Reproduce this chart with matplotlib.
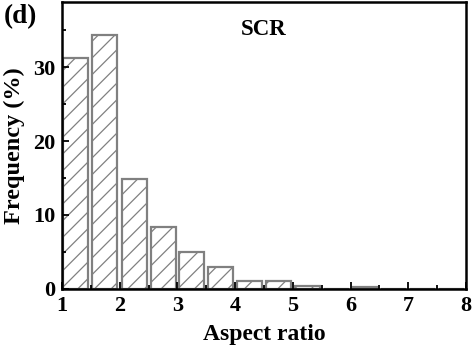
import numpy as np
import matplotlib
matplotlib.use("Agg")
from matplotlib import pyplot as plt

plt.rcParams['font.family'] = ['Liberation Serif', 'DejaVu Serif']
plt.rcParams['font.weight'] = 'bold'
plt.rcParams['hatch.color'] = '#808080'
plt.rcParams['hatch.linewidth'] = 0.9

# bin centers (aspect ratio) and frequency (%)
centers = [1.23, 1.74, 2.25, 2.76, 3.25, 3.75, 4.25, 4.75, 5.25, 5.75, 6.25, 6.75, 7.25, 7.75]
freq = [31.3, 34.3, 14.9, 8.4, 5.0, 2.9, 1.0, 1.0, 0.4, 0.0, 0.3, 0.0, 0.0, 0.0]

fig = plt.figure(figsize=(4.74, 3.54), dpi=100)
ax = fig.add_axes([0.131, 0.184, 0.852, 0.81])

ax.bar(centers, freq, width=0.43, color='white', edgecolor='#808080',
       linewidth=1.6, hatch='//')

ax.set_xlim(1, 8)
ax.set_ylim(0, 38.8)
ax.set_xticks(range(1, 9))
ax.set_xticks(np.arange(1.5, 8, 1.0), minor=True)
ax.set_yticks([0, 10, 20, 30])
ax.set_yticks([5, 15, 25, 35], minor=True)
ax.tick_params(which='both', direction='in', labelsize=16, width=1.3)
ax.tick_params(which='major', length=5, pad=5)
ax.tick_params(which='minor', length=3)
for sp in ax.spines.values():
    sp.set_linewidth(1.8)

ax.set_xlabel('Aspect ratio', fontsize=17, fontweight='bold', labelpad=6)
ax.set_ylabel('Frequency (%)', fontsize=17.5, fontweight='bold', labelpad=6)
ax.text(0.5, 0.906, 'SCR', transform=ax.transAxes, ha='center', va='center',
        fontsize=16.5, fontweight='bold')
fig.text(0.008, 0.952, '(d)', ha='left', va='center', fontsize=19.5, fontweight='bold')

fig.savefig('out.png', dpi=100)
